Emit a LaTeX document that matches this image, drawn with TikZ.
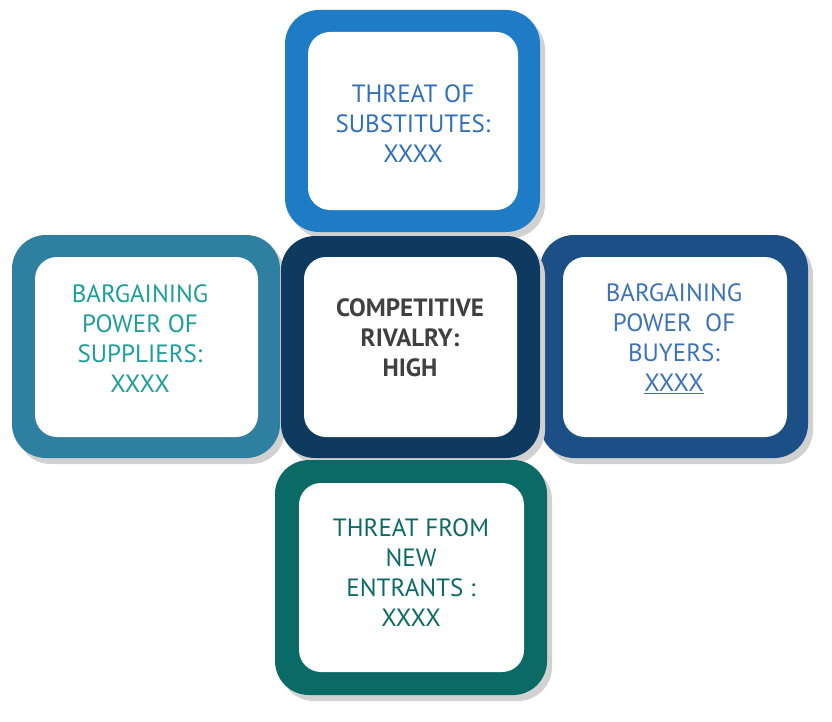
\documentclass[tikz,border=0pt]{standalone}
\usepackage{fontspec}
\setmainfont{PT Sans}
\begin{document}
\begin{tikzpicture}[x=1pt,y=-1pt,
  outer/.style={rounded corners=34pt},
  inner/.style={fill=white,rounded corners=22pt},
  lbl/.style={align=center,font=\fontsize{25}{30}\selectfont}]
\useasboundingbox (0,0) rectangle (832,722);
\definecolor{ctop}{HTML}{1E7BC6}
\definecolor{cleft}{HTML}{2F7FA0}
\definecolor{ccen}{HTML}{0F3A60}
\definecolor{cright}{HTML}{1B4F86}
\definecolor{cbot}{HTML}{0C6A66}
\definecolor{ttop}{HTML}{3070B8}
\definecolor{tleft}{HTML}{1E9E9A}
\definecolor{tright}{HTML}{3C72B8}
% shadows
\foreach \a/\b/\c/\d in {285/10/540/232, 12/235/280/458, 540/235/808/458, 275/460/547/695}
  \fill[black!18,rounded corners=34pt] (\a+5,\b+6) rectangle (\c+5,\d+6);
\fill[ctop,outer] (285,10) rectangle (540,232);
\fill[inner] (308,32) rectangle (518,210);
\fill[cleft,outer] (12,235) rectangle (280,458);
\fill[inner] (35,257) rectangle (258,437);
\fill[cright,outer] (540,235) rectangle (808,458);
\fill[inner] (563,257) rectangle (787,437);
\fill[black!18,rounded corners=34pt] (286,242) rectangle (545,464);
\fill[ccen,outer] (281,236) rectangle (540,458);
\fill[inner] (304,257) rectangle (517,437);
\fill[cbot,outer] (275,460) rectangle (547,695);
\fill[inner] (299,483) rectangle (524,672);
\node[lbl,text=ttop] (top) at (413,124) {THREAT OF\\SUBSTITUTES:\\XXXX};
\node[lbl,text=tleft] (left) at (140,339) {BARGAINING\\POWER OF\\SUPPLIERS:\\XXXX};
\node[lbl,text=black!75,font=\fontsize{25}{30}\selectfont\bfseries] (cen) at (410,338) {COMPETITIVE\\RIVALRY:\\HIGH};
\node[lbl,text=tright] (right) at (674,339) {BARGAINING\\POWER~ OF\\BUYERS:\\\underline{XXXX}};
\node[lbl,text=cbot] (bot) at (411,573) {THREAT FROM\\NEW\\ENTRANTS :\\XXXX};
\end{tikzpicture}
\end{document}
